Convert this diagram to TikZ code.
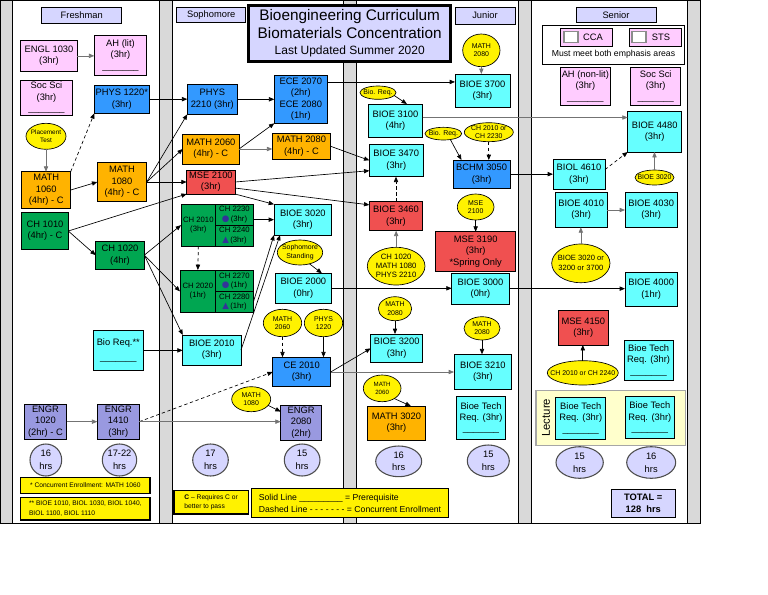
\documentclass[tikz,border=0pt]{standalone}
\usepackage{fontspec}
\setmainfont{Liberation Sans}
\newfontfamily\dejavu{DejaVu Sans}
\usetikzlibrary{shapes.geometric,arrows.meta}
\definecolor{cpink}{HTML}{FFCCFF}
\definecolor{ccyan}{HTML}{66FFFF}
\definecolor{cblue}{HTML}{3399FF}
\definecolor{corange}{HTML}{FFB300}
\definecolor{cred}{HTML}{F05050}
\definecolor{cgreen}{HTML}{00A651}
\definecolor{cpurple}{HTML}{9999E0}
\definecolor{clav}{HTML}{D6D6FF}
\definecolor{cband}{HTML}{D9D9D9}
\definecolor{clyellow}{HTML}{FFFFCC}
\definecolor{cdot}{HTML}{333399}
\newcommand\bx[7]{\node[#6, minimum width={(#4-#2)*0.75pt}, minimum height={(#5-#3)*0.75pt}] (#1) at ({(#2+#4)/2},{(#3+#5)/2}) {#7};}
\newcommand\el[8][]{\node[#7, minimum width={(#5-#3)*0.75pt}, minimum height={(#6-#4)*0.75pt}, label={[ellt,#1]center:{#8}}] (#2) at ({(#3+#5)/2},{(#4+#6)/2}) {};}
\newcommand\blnk{\_\_\_\_\_\_\_}
\newcommand\chf{\fontsize{5.8}{7}\selectfont}
\newcommand\mydot{{\dejavu\fontsize{6.5}{6.5}\selectfont\color{cdot}●}\,}
\newcommand\mytri{{\dejavu\fontsize{6.5}{6.5}\selectfont\color{cdot}▲}\,}
\begin{document}
\begin{tikzpicture}[x=0.75pt, y=-0.75pt,
 bxbase/.style={draw, line width=0.6pt, inner sep=0pt, outer sep=0pt, align=center, font=\fontsize{7}{8.5}\selectfont},
 pinkb/.style={bxbase, fill=cpink},
 cyanb/.style={bxbase, fill=ccyan},
 blueb/.style={bxbase, fill=cblue},
 orangeb/.style={bxbase, fill=corange},
 redb/.style={bxbase, fill=cred},
 greenb/.style={bxbase, fill=cgreen},
 purpleb/.style={bxbase, fill=cpurple},
 hdr/.style={bxbase, fill=clav},
 notebox/.style={bxbase, fill=yellow, line width=0.8pt, font=\fontsize{5}{7}\selectfont},
 ell/.style={ellipse, draw, line width=0.5pt, fill=yellow, inner sep=0pt, outer sep=0pt},
 ellt/.style={align=center, inner sep=0pt, font=\fontsize{5.2}{6.2}\selectfont},
 hrst/.style={font=\fontsize{7}{9.5}\selectfont},
 hrsS/.style={ellipse, draw=black!70, line width=0.8pt, fill=clav, inner sep=0pt, outer sep=0pt},
 lbl/.style={inner sep=0pt, font=\fontsize{7}{8.5}\selectfont},
 chk/.style={draw=black!45, fill=white, line width=0.9pt, inner sep=0pt, outer sep=0pt},
 arr/.style={-{Triangle[length=4pt,width=3.2pt]}, line width=0.5pt},
 garr/.style={arr, draw=black!55},
 darr/.style={arr, dash pattern=on 2.5pt off 2pt}]
\useasboundingbox (0,0) rectangle (768,594);
\draw[fill=cband, line width=0.6pt] (0,0.5) rectangle (700,523);
\foreach \a/\b in {12/159,172/343,356/518,531/687}{\draw[fill=white, line width=0.6pt] (\a,0.5) rectangle (\b,523);}
% headers
\bx{hFr}{41.7}{7.3}{121.7}{23.3}{hdr}{Freshman}
\bx{hSo}{176.7}{7.3}{245.7}{22.7}{hdr}{Sophomore}
\bx{hJu}{455}{7.3}{515}{24}{hdr}{Junior}
\bx{hSe}{576}{7.3}{656}{22.7}{hdr}{Senior}
\bx{title}{248.8}{5.1}{450.6}{61.6}{hdr, line width=2.2pt, font=\fontsize{11.5}{13.7}\selectfont}{Bioengineering Curriculum\\Biomaterials Concentration\\[-1.5pt]{\fontsize{9}{11}\selectfont Last Updated Summer 2020}}
% freshman
\bx{engl}{20.7}{40.7}{77.3}{71}{pinkb}{ENGL 1030\\(3hr)}
\bx{ahlit}{94.3}{35.7}{146.7}{75}{pinkb}{AH (lit)\\(3hr)\\\blnk}
\bx{soc1}{20.7}{80}{72.3}{115.7}{pinkb}{Soc Sci\\(3hr)\\\blnk}
\bx{phys1220}{94.3}{85}{149.3}{113.3}{blueb}{PHYS 1220*\\(3hr)}
\el[font=\fontsize{4.8}{5.6}\selectfont]{place}{26}{123.3}{66}{149.3}{ell}{Placement\\Test}
\bx{math1060}{21.7}{171.7}{70.7}{208.3}{orangeb}{MATH\\1060\\(4hr) - C}
\bx{math1080}{97.3}{162.3}{146.7}{201.7}{orangeb}{MATH\\1080\\(4hr) - C}
\bx{ch1010}{21.7}{212.7}{68.3}{249.3}{greenb}{CH 1010\\(4hr) - C}
\bx{ch1020}{95.7}{241}{144.3}{269.3}{greenb}{CH 1020\\(4hr)}
\bx{bioreq}{93.3}{330}{143.3}{370.7}{cyanb}{Bio Req.**\\[3pt]\blnk}
\bx{engr1020}{24.3}{404}{66.7}{439.3}{purpleb}{ENGR\\1020\\(2hr) - C}
\bx{engr1410}{97.3}{404}{139.3}{439.3}{purpleb}{ENGR\\1410\\(3hr)}
\el[hrst]{h1}{30}{444}{61.7}{476}{hrsS}{16\\hrs}
\el[hrst]{h2}{102.3}{444}{136.7}{476}{hrsS}{17-22\\hrs}
\bx{note1}{20.7}{477.7}{150}{493.3}{notebox}{* Concurrent Enrollment: MATH 1060}
\bx{note2}{20.7}{497.3}{150}{520}{notebox, align=left}{** BIOE 1010, BIOL 1030, BIOL 1040,\\BIOL 1100, BIOL 1110}
% sophomore
\bx{phys2210}{187.3}{84.3}{237.3}{114.3}{blueb}{PHYS\\2210 (3hr)}
\bx{math2060}{182.7}{134}{239}{164}{orangeb}{MATH 2060\\(4hr) - C}
\bx{mse2100}{186.7}{170}{235}{194}{redb}{MSE 2100\\(3hr)}
\bx{ch2010L}{181}{204.3}{215.7}{246}{greenb, font=\chf}{CH 2010\\(3hr)}
\bx{ch2230}{215.7}{204.3}{253.3}{225}{greenb, font=\chf}{CH 2230\\\mydot(3hr)}
\bx{ch2240}{215.7}{225}{253.3}{246}{greenb, font=\chf}{CH 2240\\\mytri(3hr)}
\bx{ch2020L}{180}{270}{215.7}{312.7}{greenb, font=\chf}{CH 2020\\(1hr)}
\bx{ch2270}{215.7}{270}{253.3}{291.7}{greenb, font=\chf}{CH 2270\\\mydot(1hr)}
\bx{ch2280}{215.7}{291.7}{253.3}{312.7}{greenb, font=\chf}{CH 2280\\\mytri(1hr)}
\bx{bioe2010}{182.7}{335}{241}{365}{cyanb}{BIOE 2010\\(3hr)}
\bx{ece2070}{274.3}{75}{327.3}{123.3}{blueb}{ECE 2070\\(2hr)\\ECE 2080\\(1hr)}
\bx{math2080}{272.3}{133.3}{330.7}{159.3}{orangeb}{MATH 2080\\(4hr) - C}
\bx{bioe3020}{274}{204.3}{331.7}{235}{cyanb}{BIOE 3020\\(3hr)}
\el[font=\fontsize{5.2}{6.5}\selectfont]{soph}{277.3}{240}{322.7}{265}{ell}{Sophomore\\Standing}
\bx{bioe2000}{275}{273.3}{331.7}{303.3}{cyanb}{BIOE 2000\\(0hr)}
\el{em2060}{263.3}{309.3}{301.7}{336.7}{ell}{MATH\\2060}
\el{ep1220}{304.3}{309.3}{342.7}{336.7}{ell}{PHYS\\1220}
\bx{ce2010}{272.7}{357.3}{330.7}{386.7}{blueb}{CE 2010\\(3hr)}
\el{em1080}{231.7}{386.7}{270.7}{411.7}{ell}{MATH\\1080}
\bx{engr2080}{280.7}{405}{321.7}{440}{purpleb}{ENGR\\2080\\(2hr)}
\el[hrst]{h3}{192.7}{444}{228.3}{476}{hrsS}{17\\hrs}
\el[hrst]{h4}{284.3}{444}{320}{476}{hrsS}{15\\hrs}
\bx{legC}{174}{490.7}{248.3}{514}{notebox, align=left, line width=1pt}{\textbf{C} – Requires C or\\better to pass}
\bx{legL}{251.7}{488.3}{448.3}{517.7}{notebox, align=left, font=\fontsize{6.5}{9}\selectfont}{Solid Line \_\_\_\_\_\_\_\_\_ = Prerequisite\\Dashed Line - - - - - - - = Concurrent Enrollment}
% junior
\el{em2080a}{462.7}{34}{500}{66.7}{ell}{MATH\\2080}
\bx{bioe3700}{455}{74}{510}{107.7}{cyanb}{BIOE 3700\\(3hr)}
\el{ebr1}{360}{86}{396}{99.3}{ell}{Bio. Req.}
\bx{bioe3100}{368.3}{104}{422.7}{137.7}{cyanb}{BIOE 3100\\(4hr)}
\el{ebr2}{425}{127.3}{461.7}{140}{ell}{Bio. Req.}
\el{ech2010}{464.3}{122.7}{513.3}{141.7}{ell}{CH 2010 or\\CH 2230}
\bx{bioe3470}{369.3}{144}{423.3}{176.7}{cyanb}{BIOE 3470\\(3hr)}
\bx{bchm3050}{453.3}{160}{510}{188.3}{blueb}{BCHM 3050\\(3hr)}
\bx{bioe3460}{369.3}{201.7}{422.7}{230.7}{redb}{BIOE 3460\\(3hr)}
\el{emse2100}{457.3}{194}{494}{220}{ell}{MSE\\2100}
\bx{mse3190}{435.7}{231.7}{515.7}{271.7}{redb}{MSE 3190\\(3hr)\\*Spring Only}
\el[font=\fontsize{5.8}{6.8}\selectfont]{ech1020}{367.3}{247.3}{425}{285}{ell}{CH 1020\\MATH 1080\\PHYS 2210}
\bx{bioe3000}{451.7}{273.3}{509.3}{304}{cyanb}{BIOE 3000\\(0hr)}
\el{em2080b}{378.3}{296.7}{411.7}{320.7}{ell}{MATH\\2080}
\el{em2080c}{464}{316.7}{500}{340}{ell}{MATH\\2080}
\bx{bioe3200}{370.7}{334}{422.7}{362.7}{cyanb}{BIOE 3200\\(3hr)}
\bx{bioe3210}{454}{354.3}{511.7}{389.3}{cyanb}{BIOE 3210\\(3hr)}
\el[font=\fontsize{4.6}{5.5}\selectfont]{em2060b}{363.3}{375}{401}{401.7}{ell}{MATH\\2060}
\bx{math3020}{367.3}{406}{425.7}{440}{orangeb}{MATH 3020\\(3hr)}
\bx{techJ}{456.7}{396.7}{505.3}{439.3}{cyanb}{Bioe Tech\\Req. (3hr)\\\blnk}
\el[hrst]{h5}{375.7}{446}{421.7}{476.7}{hrsS}{16\\hrs}
\el[hrst]{h6}{467.3}{445}{509.3}{476.7}{hrsS}{15\\hrs}
% senior
\bx{ccabox}{542.7}{25.7}{684.3}{64.3}{bxbase, fill=white}{}
\bx{cca}{560}{28.3}{612}{46}{pinkb}{}
\bx{sts}{629.3}{28.3}{681.3}{46}{pinkb}{}
\bx{chk1}{564}{31.7}{578}{42.7}{chk}{}
\bx{chk2}{632}{31.7}{646}{42.7}{chk}{}
\node[lbl] (ccat) at (593,37.2) {CCA};
\node[lbl] (stst) at (661,37.2) {STS};
\node[lbl, font=\fontsize{6.5}{8}\selectfont] (must) at (613.5,54.3) {Must meet both emphasis areas};
\bx{ahnl}{560}{67.3}{610.7}{105.3}{pinkb}{AH (non-lit)\\(3hr)\\\blnk}
\bx{soc4}{630.7}{67.3}{680.7}{105.3}{pinkb}{Soc Sci\\(3hr)\\\blnk}
\bx{bioe4480}{627.7}{111.7}{681.7}{152}{cyanb}{BIOE 4480\\(3hr)}
\bx{biol4610}{553}{159.3}{605}{189}{cyanb}{BIOL 4610\\(3hr)}
\el{eb3020}{635}{170}{674}{185}{ell}{BIOE 3020}
\bx{bioe4010}{555}{192.7}{607.3}{227.3}{cyanb}{BIOE 4010\\(3hr)}
\bx{bioe4030}{625}{192.7}{677.3}{227.3}{cyanb}{BIOE 4030\\(3hr)}
\el[font=\fontsize{5.7}{7.5}\selectfont]{eor}{551.7}{244}{610}{282.7}{ell}{BIOE 3020 or\\3200 or 3700}
\bx{bioe4000}{625}{272.7}{677.3}{306}{cyanb}{BIOE 4000\\(1hr)}
\bx{mse4150}{558.3}{310.7}{608.3}{345}{redb}{MSE 4150\\(3hr)}
\el{ech2010b}{547.3}{360.7}{618.3}{385}{ell}{CH 2010 or CH 2240}
\bx{techS1}{624}{340}{673.3}{380.7}{cyanb}{Bioe Tech\\Req. (3hr)\\\blnk}
\bx{lect}{536}{390.7}{685.7}{445.7}{bxbase, fill=clyellow, draw=black!35, line width=1pt}{}
\node[lbl, rotate=90, font=\fontsize{8.5}{10}\selectfont] (lectl) at (546,417.7) {Lecture};
\bx{techS2}{555.7}{397.7}{605.7}{439.3}{cyanb}{Bioe Tech\\Req. (3hr)\\\blnk}
\bx{techS3}{625.3}{396.7}{674.3}{438.7}{cyanb}{Bioe Tech\\Req. (3hr)\\\blnk}
\el[hrst]{h7}{556}{446.7}{603.3}{478.3}{hrsS}{15\\hrs}
\el[hrst]{h8}{626.7}{446.7}{675.7}{478.3}{hrsS}{16\\hrs}
\bx{total}{611.3}{489}{675.3}{517.3}{hdr, font=\fontsize{7}{9.5}\selectfont\bfseries}{TOTAL =\\128\ \ hrs}
% connectors
\draw[garr] (engl.east) -- (engl.east -| ahlit.west);
\draw[arr] (phys1220.east) -- (phys1220.east -| phys2210.west);
\draw[garr] (place.south) -- (place.south |- math1060.north);
\draw[darr] (math1060.north east) -- (phys1220.south west);
\draw[arr] (math1060.east) -- (math1080.west);
\draw[arr] (math1080.east) -- (phys2210.south west);
\draw[arr] (math1080.east) -- (math2060.west);
\draw[arr] (math1080.east) -- (mse2100.west);
\draw[arr] (ch1010.east) -- (mse2100.south west);
\draw[arr] (ch1010.east) -- (ch1020.west);
\draw[arr] (ch1020.east) -- (ch2010L.west);
\draw[arr] (ch1020.east) -- (ch2020L.west);
\draw[arr] (ch1020.east) -- (bioe2010.north west);
\draw[arr] (bioreq.east) -- (bioreq.east -| bioe2010.west);
\draw[garr] (engr1020.east) -- (engr1410.west);
\draw[darr] (engr1410.east) -- (ce2010.west);
\draw[garr] (engr1410.east) -- (engr1410.east -| engr2080.west);
\draw[arr] (phys2210.east) -- (phys2210.east -| ece2070.west);
\draw[arr] (math2060.east) -- (ece2070.south west);
\draw[garr] (math2060.east) -- (math2060.east -| math2080.west);
\draw[arr] (ece2070.33) -- (ece2070.33 -| bioe3700.west);
\draw[arr] (math2080.east) -- (bioe3470.west);
\draw[arr] (mse2100.east) -- (bioe3470.201);
\draw[arr] (mse2100.-14) -- (bioe3460.157);
\draw[arr] (mse2100.south east) -- (bioe3020.north west);
\draw[arr] (bioe3020.west -| ch2230.east) -- (bioe3020.west);
\draw[arr] (ch2280.east) -- (bioe3020.south west);
\draw[arr] (bioe2010.east) -- (bioe3020.-146);
\draw[darr] (ch2010L.south) -- (ch2020L.north);
\draw[arr] (soph.-50) -- (bioe2000.39);
\draw[arr] (bioe2000.east) -- (bioe2000.east -| bioe3000.west);
\draw[darr] (em2060.south) -- (em2060.south |- ce2010.north);
\draw[arr] (ep1220.south) -- (ep1220.south |- ce2010.north);
\draw[arr] (em1080.-20) -- (engr2080.152);
\draw[garr] (ce2010.east) -- (ce2010.east -| bioe3210.west);
\draw[arr] (ce2010.east) -- (bioe3200.west);
\draw[garr] (em2080a.south) -- (em2080a.south |- bioe3700.north);
\draw[arr] (ebr1.-10) -- (bioe3100.56);
\draw[garr] (bioe3100.7) -- (bioe3100.7 -| bioe4480.west);
\draw[arr] (ebr2.-40) -- (bchm3050.145);
\draw[darr] (ech2010.south) -- (ech2010.south |- bchm3050.north);
\draw[arr] (bchm3050.east) -- (bchm3050.east -| biol4610.west);
\draw[darr] (biol4610.10) -- (bioe4480.south west);
\draw[garr] (eb3020.north) -- (eb3020.north |- bioe4480.south);
\draw[garr] (bioe4010.east) -- (bioe4030.west);
\draw[garr] (eor.north) -- (eor.north |- bioe4010.south);
\draw[arr] (bioe3000.east) -- (bioe3000.east -| bioe4000.west);
\draw[arr] (ech2010b.north) -- (ech2010b.north |- mse4150.south);
\draw[arr] (emse2100.south) -- (emse2100.south |- mse3190.north);
\draw[garr] (ech1020.north) -- (ech1020.north |- bioe3460.south);
\draw[darr] (bioe3460.north) -- (bioe3460.north |- bioe3470.south);
\draw[arr] (em2080b.south) -- (em2080b.south |- bioe3200.north);
\draw[arr] (em2080c.south) -- (em2080c.south |- bioe3210.north);
\draw[arr] (em2060b.-40) -- (math3020.50);
\end{tikzpicture}
\end{document}
